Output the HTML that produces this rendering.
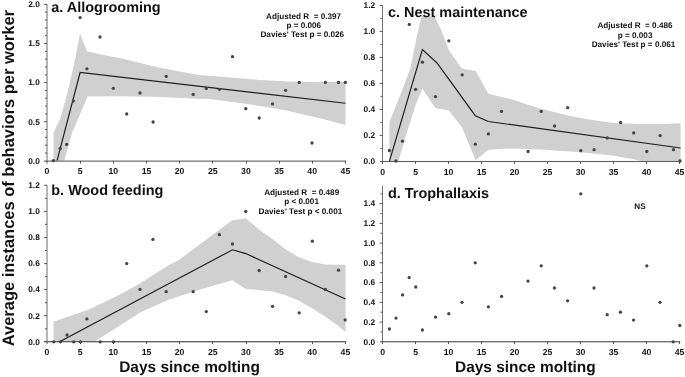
<!DOCTYPE html>
<html><head><meta charset="utf-8"><title>Figure</title>
<style>
html,body{margin:0;padding:0;background:#fff;}
svg{display:block;}
text{font-family:'Liberation Sans', Arial, sans-serif;font-weight:bold;fill:#111;text-rendering:geometricPrecision;}
.tk{font-size:8.7px;}
.tky{font-size:8.3px;}
.ti{font-size:14.45px;}
.an{font-size:8.17px;text-anchor:middle;}
.xl{font-size:15.45px;}
.band{fill:#d0d0d0;stroke:none;}
.fit{fill:none;stroke:#1c1c1c;stroke-width:1.15;stroke-linejoin:miter;}
.pt{fill:#444;}
</style></head><body>
<svg width="685" height="377" viewBox="0 0 685 377">
<rect width="685" height="377" fill="#fff"/>

<polygon class="band" points="53.5,132.7 60.4,118.0 67.4,93.0 74.5,62.3 80.0,33.5 87.0,51.3 100.0,54.3 122.0,58.5 160.4,68.0 198.8,74.9 230.0,77.6 260.0,79.9 289.7,81.5 319.6,81.9 345.5,81.4 345.5,125.0 323.0,119.0 285.4,110.2 247.6,103.9 209.8,98.9 198.8,98.8 160.4,97.0 122.0,96.2 87.6,96.5 80.0,114.5 72.3,131.9 64.3,160.8 53.5,160.8"/>
<polyline class="fit" points="57.0,160.8 80.1,72.5 345.5,103.2"/>
<polygon class="band" points="389.4,122.0 400.3,95.0 410.5,68.0 418.2,29.9 421.5,15.9 434.5,15.9 441.2,29.9 448.8,50.0 461.7,68.6 475.8,70.9 488.3,93.7 512.0,99.5 538.0,108.0 563.4,114.6 588.6,119.6 613.8,122.9 639.0,124.0 664.0,123.9 680.6,123.2 680.6,161.3 642.0,161.3 635.0,159.5 613.8,155.8 588.6,153.0 563.4,151.0 540.0,149.6 512.0,148.5 488.4,149.7 475.6,160.2 462.2,127.8 448.8,110.2 435.5,108.2 422.4,88.8 415.6,105.0 405.5,137.0 398.4,161.3 389.4,161.3"/>
<polyline class="fit" points="389.4,161.3 422.4,49.6 437.0,63.0 475.3,115.7 488.4,121.5 680.6,148.0"/>
<polygon class="band" points="53.5,321.8 88.8,309.6 118.0,295.4 140.0,283.4 154.6,273.9 169.2,265.1 178.5,260.2 232.3,220.2 245.6,218.2 259.2,229.7 272.8,239.2 285.4,249.3 298.0,256.8 312.3,261.9 325.7,264.4 345.5,264.9 345.5,332.2 337.6,325.2 323.1,315.3 310.5,307.3 298.0,300.2 285.4,295.2 272.8,291.4 245.8,288.9 232.2,280.3 198.4,289.9 169.2,299.4 140.0,312.6 122.0,324.3 94.0,341.8 53.5,341.8"/>
<polyline class="fit" points="59.6,341.8 232.5,249.8 245.8,253.6 345.5,299.0"/>
<rect x="46" y="4.4" width="2" height="157.4" fill="#b4b4b4"/><rect x="43.8" y="160.50" width="302.2" height="1.3" fill="#777"/><g stroke="#555" stroke-width="1" fill="none"><line x1="47.0" y1="160.8" x2="47.0" y2="163.6"/><line x1="80.5" y1="160.8" x2="80.5" y2="163.6"/><line x1="113.5" y1="160.8" x2="113.5" y2="163.6"/><line x1="146.5" y1="160.8" x2="146.5" y2="163.6"/><line x1="179.5" y1="160.8" x2="179.5" y2="163.6"/><line x1="212.5" y1="160.8" x2="212.5" y2="163.6"/><line x1="246.5" y1="160.8" x2="246.5" y2="163.6"/><line x1="279.5" y1="160.8" x2="279.5" y2="163.6"/><line x1="312.5" y1="160.8" x2="312.5" y2="163.6"/><line x1="345.5" y1="160.8" x2="345.5" y2="163.6"/><line x1="45.0" y1="153.0" x2="47.0" y2="153.0"/><line x1="45.0" y1="145.2" x2="47.0" y2="145.2"/><line x1="45.0" y1="137.3" x2="47.0" y2="137.3"/><line x1="45.0" y1="129.5" x2="47.0" y2="129.5"/><line x1="44.1" y1="121.7" x2="47.0" y2="121.7"/><line x1="45.0" y1="113.9" x2="47.0" y2="113.9"/><line x1="45.0" y1="106.1" x2="47.0" y2="106.1"/><line x1="45.0" y1="98.2" x2="47.0" y2="98.2"/><line x1="45.0" y1="90.4" x2="47.0" y2="90.4"/><line x1="44.1" y1="82.6" x2="47.0" y2="82.6"/><line x1="45.0" y1="74.8" x2="47.0" y2="74.8"/><line x1="45.0" y1="67.0" x2="47.0" y2="67.0"/><line x1="45.0" y1="59.1" x2="47.0" y2="59.1"/><line x1="45.0" y1="51.3" x2="47.0" y2="51.3"/><line x1="44.1" y1="43.5" x2="47.0" y2="43.5"/><line x1="45.0" y1="35.7" x2="47.0" y2="35.7"/><line x1="45.0" y1="27.9" x2="47.0" y2="27.9"/><line x1="45.0" y1="20.0" x2="47.0" y2="20.0"/><line x1="45.0" y1="12.2" x2="47.0" y2="12.2"/><line x1="44.1" y1="4.4" x2="47.0" y2="4.4"/></g>
<text class="tky" text-anchor="end" x="39.8" y="163.6">0.0</text>
<text class="tky" text-anchor="end" x="39.8" y="124.5">0.5</text>
<text class="tky" text-anchor="end" x="39.8" y="85.4">1.0</text>
<text class="tky" text-anchor="end" x="39.8" y="46.3">1.5</text>
<text class="tky" text-anchor="end" x="39.8" y="7.2">2.0</text>
<text class="tk" text-anchor="middle" x="47.0" y="174.0">0</text>
<text class="tk" text-anchor="middle" x="80.1" y="174.0">5</text>
<text class="tk" text-anchor="middle" x="113.3" y="174.0">10</text>
<text class="tk" text-anchor="middle" x="146.5" y="174.0">15</text>
<text class="tk" text-anchor="middle" x="179.6" y="174.0">20</text>
<text class="tk" text-anchor="middle" x="212.8" y="174.0">25</text>
<text class="tk" text-anchor="middle" x="245.9" y="174.0">30</text>
<text class="tk" text-anchor="middle" x="279.1" y="174.0">35</text>
<text class="tk" text-anchor="middle" x="312.2" y="174.0">40</text>
<text class="tk" text-anchor="middle" x="345.4" y="174.0">45</text>
<rect x="46" y="185.3" width="2" height="157.0" fill="#b6b6b6"/><rect x="43.8" y="341.05" width="302.2" height="1.3" fill="#5c5c5c"/><g stroke="#555" stroke-width="1" fill="none"><line x1="47.0" y1="341.3" x2="47.0" y2="344.1"/><line x1="80.5" y1="341.3" x2="80.5" y2="344.1"/><line x1="113.5" y1="341.3" x2="113.5" y2="344.1"/><line x1="146.5" y1="341.3" x2="146.5" y2="344.1"/><line x1="179.5" y1="341.3" x2="179.5" y2="344.1"/><line x1="212.5" y1="341.3" x2="212.5" y2="344.1"/><line x1="246.5" y1="341.3" x2="246.5" y2="344.1"/><line x1="279.5" y1="341.3" x2="279.5" y2="344.1"/><line x1="312.5" y1="341.3" x2="312.5" y2="344.1"/><line x1="345.5" y1="341.3" x2="345.5" y2="344.1"/><line x1="45.0" y1="328.8" x2="47.0" y2="328.8"/><line x1="44.1" y1="315.7" x2="47.0" y2="315.7"/><line x1="45.0" y1="302.7" x2="47.0" y2="302.7"/><line x1="44.1" y1="289.6" x2="47.0" y2="289.6"/><line x1="45.0" y1="276.6" x2="47.0" y2="276.6"/><line x1="44.1" y1="263.6" x2="47.0" y2="263.6"/><line x1="45.0" y1="250.5" x2="47.0" y2="250.5"/><line x1="44.1" y1="237.5" x2="47.0" y2="237.5"/><line x1="45.0" y1="224.4" x2="47.0" y2="224.4"/><line x1="44.1" y1="211.4" x2="47.0" y2="211.4"/><line x1="45.0" y1="198.4" x2="47.0" y2="198.4"/><line x1="44.1" y1="185.3" x2="47.0" y2="185.3"/></g>
<text class="tky" text-anchor="end" x="39.8" y="344.6">0.0</text>
<text class="tky" text-anchor="end" x="39.8" y="318.5">0.2</text>
<text class="tky" text-anchor="end" x="39.8" y="292.4">0.4</text>
<text class="tky" text-anchor="end" x="39.8" y="266.4">0.6</text>
<text class="tky" text-anchor="end" x="39.8" y="240.3">0.8</text>
<text class="tky" text-anchor="end" x="39.8" y="214.2">1.0</text>
<text class="tky" text-anchor="end" x="39.8" y="188.1">1.2</text>
<text class="tk" text-anchor="middle" x="47.0" y="355.0">0</text>
<text class="tk" text-anchor="middle" x="80.1" y="355.0">5</text>
<text class="tk" text-anchor="middle" x="113.3" y="355.0">10</text>
<text class="tk" text-anchor="middle" x="146.5" y="355.0">15</text>
<text class="tk" text-anchor="middle" x="179.6" y="355.0">20</text>
<text class="tk" text-anchor="middle" x="212.8" y="355.0">25</text>
<text class="tk" text-anchor="middle" x="245.9" y="355.0">30</text>
<text class="tk" text-anchor="middle" x="279.1" y="355.0">35</text>
<text class="tk" text-anchor="middle" x="312.2" y="355.0">40</text>
<text class="tk" text-anchor="middle" x="345.4" y="355.0">45</text>
<rect x="382" y="5.4" width="1" height="156.7" fill="#707070"/><rect x="379.8" y="160.95" width="300.5" height="1.1" fill="#606060"/><g stroke="#555" stroke-width="1" fill="none"><line x1="382.5" y1="161.1" x2="382.5" y2="163.9"/><line x1="415.5" y1="161.1" x2="415.5" y2="163.9"/><line x1="448.5" y1="161.1" x2="448.5" y2="163.9"/><line x1="481.5" y1="161.1" x2="481.5" y2="163.9"/><line x1="514.5" y1="161.1" x2="514.5" y2="163.9"/><line x1="547.5" y1="161.1" x2="547.5" y2="163.9"/><line x1="580.5" y1="161.1" x2="580.5" y2="163.9"/><line x1="613.5" y1="161.1" x2="613.5" y2="163.9"/><line x1="646.5" y1="161.1" x2="646.5" y2="163.9"/><line x1="679.5" y1="161.1" x2="679.5" y2="163.9"/><line x1="380.5" y1="148.4" x2="382.5" y2="148.4"/><line x1="379.6" y1="135.4" x2="382.5" y2="135.4"/><line x1="380.5" y1="122.4" x2="382.5" y2="122.4"/><line x1="379.6" y1="109.4" x2="382.5" y2="109.4"/><line x1="380.5" y1="96.4" x2="382.5" y2="96.4"/><line x1="379.6" y1="83.4" x2="382.5" y2="83.4"/><line x1="380.5" y1="70.4" x2="382.5" y2="70.4"/><line x1="379.6" y1="57.4" x2="382.5" y2="57.4"/><line x1="380.5" y1="44.4" x2="382.5" y2="44.4"/><line x1="379.6" y1="31.4" x2="382.5" y2="31.4"/><line x1="380.5" y1="18.4" x2="382.5" y2="18.4"/><line x1="379.6" y1="5.4" x2="382.5" y2="5.4"/></g>
<text class="tky" text-anchor="end" x="375.1" y="164.2">0.0</text>
<text class="tky" text-anchor="end" x="375.1" y="138.2">0.2</text>
<text class="tky" text-anchor="end" x="375.1" y="112.2">0.4</text>
<text class="tky" text-anchor="end" x="375.1" y="86.2">0.6</text>
<text class="tky" text-anchor="end" x="375.1" y="60.2">0.8</text>
<text class="tky" text-anchor="end" x="375.1" y="34.2">1.0</text>
<text class="tky" text-anchor="end" x="375.1" y="8.2">1.2</text>
<text class="tk" text-anchor="middle" x="382.6" y="174.6">0</text>
<text class="tk" text-anchor="middle" x="415.6" y="174.6">5</text>
<text class="tk" text-anchor="middle" x="448.6" y="174.6">10</text>
<text class="tk" text-anchor="middle" x="481.6" y="174.6">15</text>
<text class="tk" text-anchor="middle" x="514.6" y="174.6">20</text>
<text class="tk" text-anchor="middle" x="547.6" y="174.6">25</text>
<text class="tk" text-anchor="middle" x="580.6" y="174.6">30</text>
<text class="tk" text-anchor="middle" x="613.6" y="174.6">35</text>
<text class="tk" text-anchor="middle" x="646.6" y="174.6">40</text>
<text class="tk" text-anchor="middle" x="679.6" y="174.6">45</text>
<rect x="382" y="185.9" width="1" height="156.5" fill="#707070"/><rect x="379.8" y="341.05" width="300.5" height="1.3" fill="#686868"/><g stroke="#555" stroke-width="1" fill="none"><line x1="382.5" y1="341.3" x2="382.5" y2="344.1"/><line x1="415.5" y1="341.3" x2="415.5" y2="344.1"/><line x1="448.5" y1="341.3" x2="448.5" y2="344.1"/><line x1="481.5" y1="341.3" x2="481.5" y2="344.1"/><line x1="514.5" y1="341.3" x2="514.5" y2="344.1"/><line x1="547.5" y1="341.3" x2="547.5" y2="344.1"/><line x1="580.5" y1="341.3" x2="580.5" y2="344.1"/><line x1="613.5" y1="341.3" x2="613.5" y2="344.1"/><line x1="646.5" y1="341.3" x2="646.5" y2="344.1"/><line x1="679.5" y1="341.3" x2="679.5" y2="344.1"/><line x1="380.5" y1="331.9" x2="382.5" y2="331.9"/><line x1="379.6" y1="322.1" x2="382.5" y2="322.1"/><line x1="380.5" y1="312.2" x2="382.5" y2="312.2"/><line x1="379.6" y1="302.3" x2="382.5" y2="302.3"/><line x1="380.5" y1="292.4" x2="382.5" y2="292.4"/><line x1="379.6" y1="282.6" x2="382.5" y2="282.6"/><line x1="380.5" y1="272.7" x2="382.5" y2="272.7"/><line x1="379.6" y1="262.8" x2="382.5" y2="262.8"/><line x1="380.5" y1="253.0" x2="382.5" y2="253.0"/><line x1="379.6" y1="243.1" x2="382.5" y2="243.1"/><line x1="380.5" y1="233.2" x2="382.5" y2="233.2"/><line x1="379.6" y1="223.4" x2="382.5" y2="223.4"/><line x1="380.5" y1="213.5" x2="382.5" y2="213.5"/><line x1="379.6" y1="203.6" x2="382.5" y2="203.6"/><line x1="380.5" y1="193.8" x2="382.5" y2="193.8"/></g>
<text class="tky" text-anchor="end" x="375.1" y="344.6">0.0</text>
<text class="tky" text-anchor="end" x="375.1" y="324.9">0.2</text>
<text class="tky" text-anchor="end" x="375.1" y="305.1">0.4</text>
<text class="tky" text-anchor="end" x="375.1" y="285.4">0.6</text>
<text class="tky" text-anchor="end" x="375.1" y="265.6">0.8</text>
<text class="tky" text-anchor="end" x="375.1" y="245.9">1.0</text>
<text class="tky" text-anchor="end" x="375.1" y="226.2">1.2</text>
<text class="tky" text-anchor="end" x="375.1" y="206.4">1.4</text>
<text class="tk" text-anchor="middle" x="382.6" y="355.0">0</text>
<text class="tk" text-anchor="middle" x="415.6" y="355.0">5</text>
<text class="tk" text-anchor="middle" x="448.6" y="355.0">10</text>
<text class="tk" text-anchor="middle" x="481.6" y="355.0">15</text>
<text class="tk" text-anchor="middle" x="514.6" y="355.0">20</text>
<text class="tk" text-anchor="middle" x="547.6" y="355.0">25</text>
<text class="tk" text-anchor="middle" x="580.6" y="355.0">30</text>
<text class="tk" text-anchor="middle" x="613.6" y="355.0">35</text>
<text class="tk" text-anchor="middle" x="646.6" y="355.0">40</text>
<text class="tk" text-anchor="middle" x="679.6" y="355.0">45</text>
<circle class="pt" cx="53.4" cy="160.6" r="1.65"/>
<circle class="pt" cx="60.2" cy="148.5" r="1.65"/>
<circle class="pt" cx="66.7" cy="144.4" r="1.65"/>
<circle class="pt" cx="73.3" cy="100.9" r="1.65"/>
<circle class="pt" cx="80.1" cy="17.6" r="1.65"/>
<circle class="pt" cx="86.9" cy="68.8" r="1.65"/>
<circle class="pt" cx="100.0" cy="37.0" r="1.65"/>
<circle class="pt" cx="113.3" cy="88.3" r="1.65"/>
<circle class="pt" cx="126.7" cy="114.0" r="1.65"/>
<circle class="pt" cx="140.0" cy="93.0" r="1.65"/>
<circle class="pt" cx="153.1" cy="122.0" r="1.65"/>
<circle class="pt" cx="166.2" cy="76.3" r="1.65"/>
<circle class="pt" cx="193.2" cy="94.4" r="1.65"/>
<circle class="pt" cx="206.3" cy="88.5" r="1.65"/>
<circle class="pt" cx="219.4" cy="89.3" r="1.65"/>
<circle class="pt" cx="232.5" cy="56.7" r="1.65"/>
<circle class="pt" cx="245.8" cy="108.7" r="1.65"/>
<circle class="pt" cx="259.2" cy="118.0" r="1.65"/>
<circle class="pt" cx="272.5" cy="103.9" r="1.65"/>
<circle class="pt" cx="285.6" cy="90.3" r="1.65"/>
<circle class="pt" cx="299.2" cy="82.4" r="1.65"/>
<circle class="pt" cx="312.0" cy="143.0" r="1.65"/>
<circle class="pt" cx="325.4" cy="82.4" r="1.65"/>
<circle class="pt" cx="338.5" cy="82.4" r="1.65"/>
<circle class="pt" cx="345.4" cy="82.4" r="1.65"/>
<circle class="pt" cx="152.9" cy="239.4" r="1.65"/>
<circle class="pt" cx="126.7" cy="263.6" r="1.65"/>
<circle class="pt" cx="140.0" cy="289.4" r="1.65"/>
<circle class="pt" cx="166.2" cy="291.7" r="1.65"/>
<circle class="pt" cx="86.9" cy="318.9" r="1.65"/>
<circle class="pt" cx="67.0" cy="335.0" r="1.65"/>
<circle class="pt" cx="53.8" cy="341.8" r="1.65"/>
<circle class="pt" cx="60.5" cy="341.8" r="1.65"/>
<circle class="pt" cx="73.7" cy="341.8" r="1.65"/>
<circle class="pt" cx="80.4" cy="341.8" r="1.65"/>
<circle class="pt" cx="100.2" cy="341.8" r="1.65"/>
<circle class="pt" cx="113.5" cy="341.8" r="1.65"/>
<circle class="pt" cx="245.8" cy="211.5" r="1.65"/>
<circle class="pt" cx="219.4" cy="234.7" r="1.65"/>
<circle class="pt" cx="232.5" cy="244.0" r="1.65"/>
<circle class="pt" cx="312.3" cy="241.2" r="1.65"/>
<circle class="pt" cx="259.2" cy="270.5" r="1.65"/>
<circle class="pt" cx="338.5" cy="270.2" r="1.65"/>
<circle class="pt" cx="193.2" cy="291.7" r="1.65"/>
<circle class="pt" cx="206.3" cy="311.6" r="1.65"/>
<circle class="pt" cx="285.6" cy="276.5" r="1.65"/>
<circle class="pt" cx="272.5" cy="306.3" r="1.65"/>
<circle class="pt" cx="299.2" cy="312.8" r="1.65"/>
<circle class="pt" cx="325.4" cy="289.4" r="1.65"/>
<circle class="pt" cx="345.2" cy="319.9" r="1.65"/>
<circle class="pt" cx="409.3" cy="24.4" r="1.65"/>
<circle class="pt" cx="448.8" cy="40.8" r="1.65"/>
<circle class="pt" cx="422.4" cy="62.2" r="1.65"/>
<circle class="pt" cx="462.2" cy="74.8" r="1.65"/>
<circle class="pt" cx="415.6" cy="89.3" r="1.65"/>
<circle class="pt" cx="435.5" cy="96.6" r="1.65"/>
<circle class="pt" cx="501.5" cy="111.4" r="1.65"/>
<circle class="pt" cx="488.4" cy="133.9" r="1.65"/>
<circle class="pt" cx="402.5" cy="141.2" r="1.65"/>
<circle class="pt" cx="475.3" cy="144.2" r="1.65"/>
<circle class="pt" cx="389.4" cy="150.5" r="1.65"/>
<circle class="pt" cx="395.9" cy="161.0" r="1.65"/>
<circle class="pt" cx="528.1" cy="151.5" r="1.65"/>
<circle class="pt" cx="541.2" cy="111.4" r="1.65"/>
<circle class="pt" cx="554.6" cy="126.0" r="1.65"/>
<circle class="pt" cx="567.7" cy="107.7" r="1.65"/>
<circle class="pt" cx="580.8" cy="150.7" r="1.65"/>
<circle class="pt" cx="594.1" cy="149.7" r="1.65"/>
<circle class="pt" cx="607.2" cy="137.9" r="1.65"/>
<circle class="pt" cx="620.6" cy="122.5" r="1.65"/>
<circle class="pt" cx="633.7" cy="132.9" r="1.65"/>
<circle class="pt" cx="646.8" cy="151.5" r="1.65"/>
<circle class="pt" cx="660.1" cy="135.6" r="1.65"/>
<circle class="pt" cx="673.5" cy="149.7" r="1.65"/>
<circle class="pt" cx="680.0" cy="161.0" r="1.65"/>
<circle class="pt" cx="389.4" cy="329.0" r="1.65"/>
<circle class="pt" cx="396.0" cy="318.1" r="1.65"/>
<circle class="pt" cx="402.6" cy="294.9" r="1.65"/>
<circle class="pt" cx="409.2" cy="277.6" r="1.65"/>
<circle class="pt" cx="415.8" cy="287.0" r="1.65"/>
<circle class="pt" cx="422.4" cy="330.0" r="1.65"/>
<circle class="pt" cx="435.6" cy="317.1" r="1.65"/>
<circle class="pt" cx="448.8" cy="313.7" r="1.65"/>
<circle class="pt" cx="462.0" cy="302.3" r="1.65"/>
<circle class="pt" cx="475.2" cy="262.8" r="1.65"/>
<circle class="pt" cx="488.4" cy="306.8" r="1.65"/>
<circle class="pt" cx="501.6" cy="296.4" r="1.65"/>
<circle class="pt" cx="528.0" cy="281.1" r="1.65"/>
<circle class="pt" cx="541.2" cy="265.8" r="1.65"/>
<circle class="pt" cx="554.4" cy="288.0" r="1.65"/>
<circle class="pt" cx="567.6" cy="300.8" r="1.65"/>
<circle class="pt" cx="580.8" cy="193.8" r="1.65"/>
<circle class="pt" cx="594.0" cy="288.0" r="1.65"/>
<circle class="pt" cx="607.2" cy="314.7" r="1.65"/>
<circle class="pt" cx="620.4" cy="312.2" r="1.65"/>
<circle class="pt" cx="633.6" cy="320.1" r="1.65"/>
<circle class="pt" cx="646.8" cy="265.8" r="1.65"/>
<circle class="pt" cx="660.0" cy="302.3" r="1.65"/>
<circle class="pt" cx="673.2" cy="341.8" r="1.65"/>
<circle class="pt" cx="679.8" cy="325.5" r="1.65"/>
<text class="ti" x="51.3" y="12.1">a. Allogrooming</text>
<text class="ti" x="51.3" y="195.2">b. Wood feeding</text>
<text class="ti" x="388" y="16.7">c. Nest maintenance</text>
<text class="ti" x="388" y="198.3">d. Trophallaxis</text>
<text class="an" x="303.6" y="18.60" xml:space="preserve">Adjusted R  = 0.397</text>
<text class="an" x="303.8" y="28.00" xml:space="preserve">p = 0.006</text>
<text class="an" x="302.3" y="37.40" xml:space="preserve">Davies' Test p = 0.026</text>
<text class="an" x="635.0" y="28.30" xml:space="preserve">Adjusted R  = 0.486</text>
<text class="an" x="635.1" y="37.70" xml:space="preserve">p = 0.003</text>
<text class="an" x="633.5" y="47.10" xml:space="preserve">Davies' Test p = 0.061</text>
<text class="an" x="301.7" y="194.90" xml:space="preserve">Adjusted R  = 0.489</text>
<text class="an" x="301.6" y="204.30" xml:space="preserve">p &lt; 0.001</text>
<text class="an" x="300.4" y="213.70" xml:space="preserve">Davies' Test p &lt; 0.001</text>
<text class="an" x="640" y="208.5">NS</text>
<text class="xl" x="119.2" y="372.4">Days since molting</text>
<text class="xl" x="455" y="372.4">Days since molting</text>
<text font-size="16.6" textLength="336.3" lengthAdjust="spacingAndGlyphs" transform="translate(13.8,346.3) rotate(-90)">Average instances of behaviors per worker</text>
</svg></body></html>
